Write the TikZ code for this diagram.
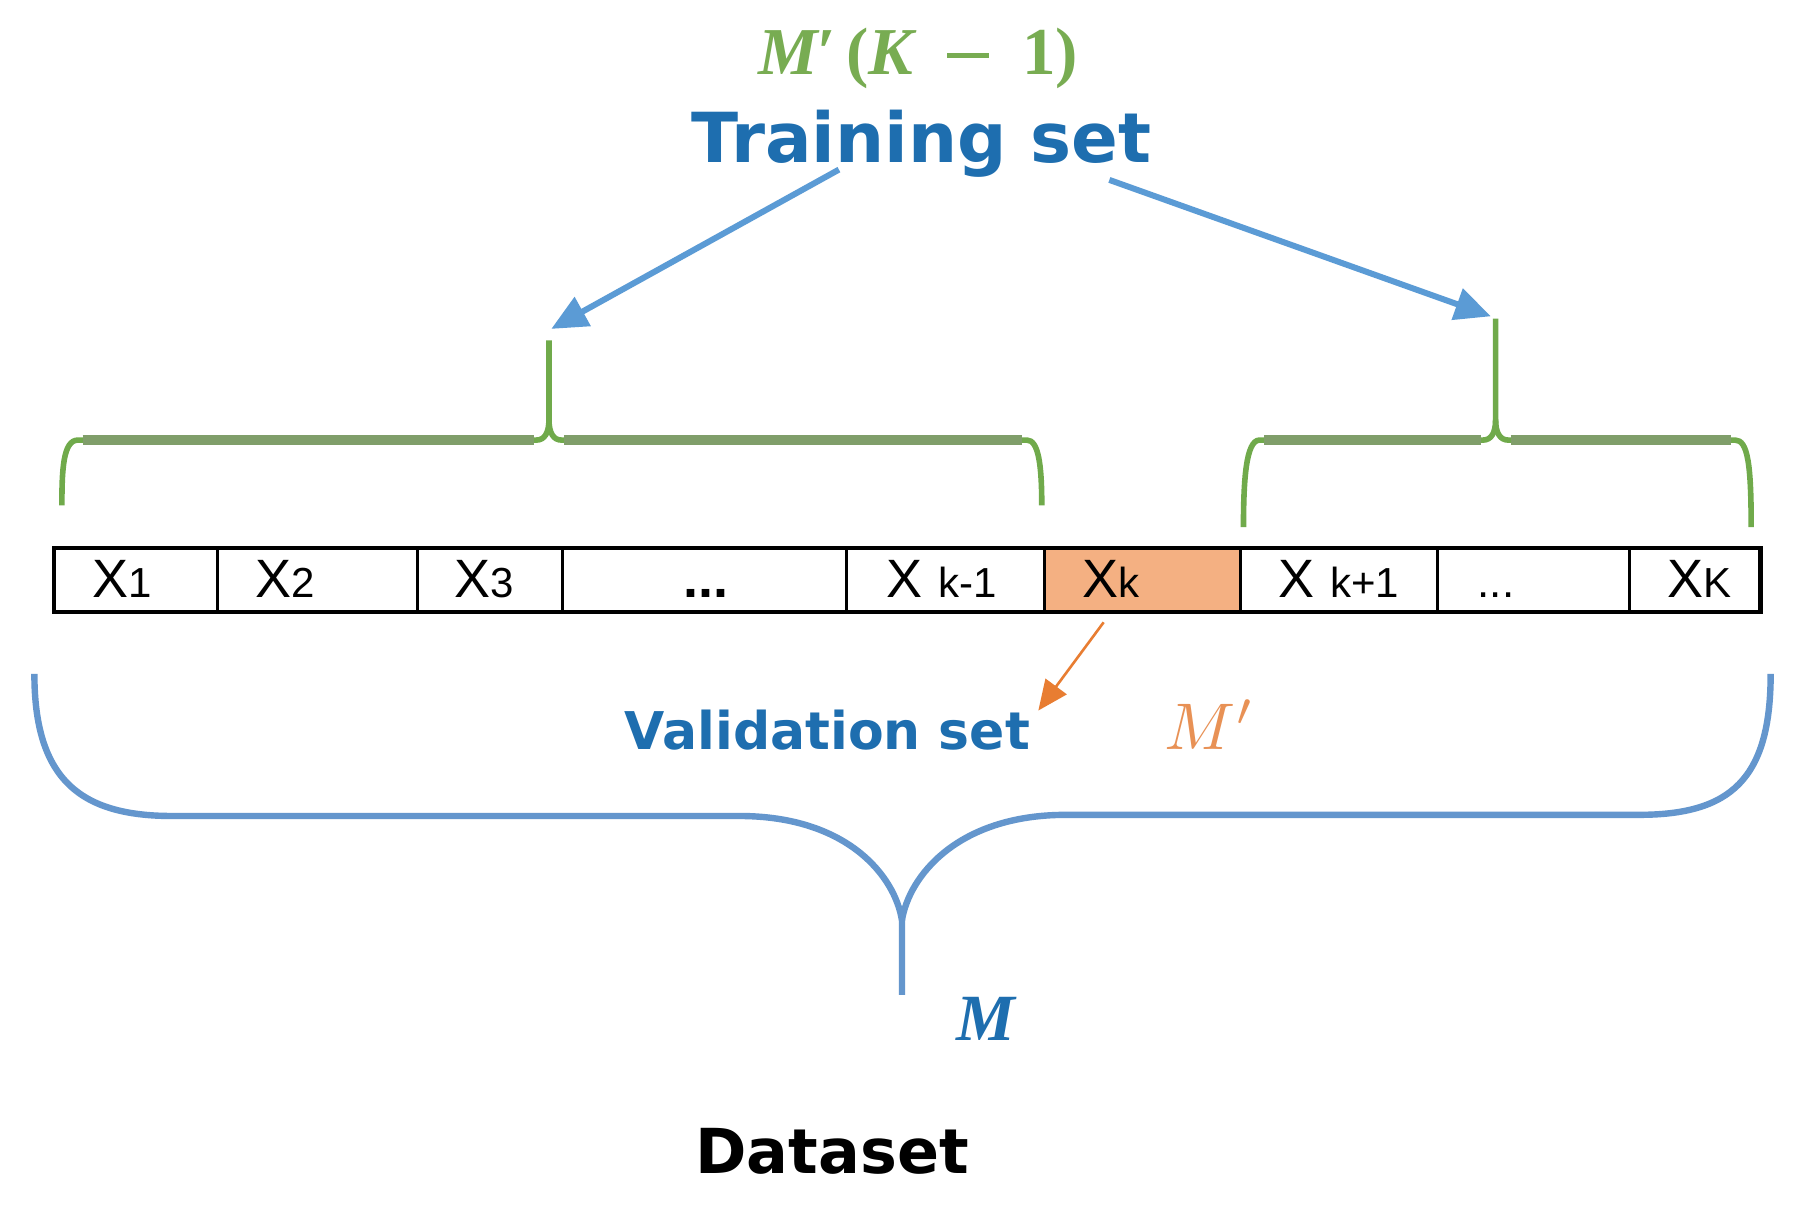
\documentclass[tikz,border=0pt]{standalone}
\usepackage[no-math]{fontspec}
\setmainfont{Liberation Sans}
\newfontfamily\dejavu{DejaVu Sans}
\newfontfamily\lserif{Liberation Serif}
\usetikzlibrary{arrows.meta}
\definecolor{bgreen}{RGB}{112,170,75}
\definecolor{hgreen}{RGB}{128,158,106}
\definecolor{tgreen}{RGB}{120,172,82}
\definecolor{ablue}{RGB}{91,155,213}
\definecolor{bblue}{RGB}{100,150,205}
\definecolor{tblue}{RGB}{30,110,175}
\definecolor{aorange}{RGB}{232,125,50}
\definecolor{torange}{RGB}{232,145,85}
\definecolor{xkfill}{RGB}{244,176,130}
\newcommand\subs[1]{{\fontsize{21}{24}\selectfont #1}}
\newcommand\bminus{\hspace{0.5em}\rule[0.24em]{0.62em}{0.08em}\hspace{0.5em}}
\begin{document}
\begin{tikzpicture}[x=0.573pt,y=-0.573pt,
  gbrace/.style={draw=bgreen, line width=2.8pt, line join=round},
  gbraceh/.style={draw=hgreen, line width=4.6pt},
  bbrace/.style={draw=bblue, line width=3.2pt, line join=round},
  barrow/.style={draw=ablue, line width=3pt, -{Triangle[length=18pt,width=16pt]}},
  oarrow/.style={draw=aorange, line width=1.3pt, -{Triangle[length=15pt,width=13pt]}, aorange},
  lab/.style={anchor=base west, inner sep=0pt, font=\fontsize{27}{30}\selectfont},
  frame/.style={draw=black, line width=2.2pt},
  divl/.style={draw=black, line width=1.5pt},
  ttl/.style={anchor=base, inner sep=0pt}]
\fill[white] (0,0) rectangle (1568,1054);
\useasboundingbox (0,0) rectangle (1568,1054);

% titles
\node[ttl, text=tgreen, font=\lserif\bfseries\fontsize{33.5}{36}\selectfont] (mk) at (801,65)
  {{\itshape M}′\hspace{0.15em}({\itshape K}\bminus1)};
\node[ttl, text=tblue, font=\dejavu\bfseries\fontsize{34.5}{40}\selectfont] (train) at (804,142) {Training set};

% cells
\fill[xkfill] (911,478) rectangle (1082,534);
\foreach \x in {189.5,364.6,491,738.8,911,1082,1254,1422}
  \draw[divl] (\x,478) -- (\x,534);
\draw[frame] (47,478) rectangle (1536,534);

\node[lab] (l1) at (80,521) {X\subs{1}};
\node[lab] (l2) at (223,521) {X\subs{2}};
\node[lab] (l3) at (396,521) {X\subs{3}};
\node[lab] (l4) at (596,521) {\bfseries...};
\node[lab] (l5) at (773,521) {X\hspace{8pt}\subs{k-1}};
\node[lab] (l6) at (944,521) {X\subs{k}};
\node[lab] (l7) at (1115,521) {X\hspace{8pt}\subs{k+1}};
\node[lab] (l8) at (1289,521) {\fontsize{22}{24}\selectfont...};
\node[lab] (l9) at (1455,521) {X\subs{K}};

% green braces
\draw[gbrace] (54,441) .. controls (54,410) and (55,384) .. (68,384) -- (468,384) .. controls (475,384) and (479,378) .. (479,366) -- (479,297);
\draw[gbrace] (479,366) .. controls (479,378) and (483,384) .. (490,384) -- (896,384) .. controls (906,384) and (909,405) .. (909,441);
\draw[gbrace] (1085,460) .. controls (1085,420) and (1087,384) .. (1099,384) -- (1294,384) .. controls (1301,384) and (1305,378) .. (1305,366) -- (1305,278);
\draw[gbrace] (1305,366) .. controls (1305,378) and (1309,384) .. (1316,384) -- (1514,384) .. controls (1525,384) and (1528,405) .. (1528,460);
\draw[gbraceh] (72,384) -- (466,384) (492,384) -- (892,384);
\draw[gbraceh] (1103,384) -- (1292,384) (1318,384) -- (1510,384);

% blue arrows
\coordinate (s1) at (732,148);
\coordinate (t1) at (481,287);
\coordinate (s2) at (968,157);
\coordinate (t2) at (1301,276);
\draw[barrow] (s1) -- (t1);
\draw[barrow] (s2) -- (t2);

% validation
\coordinate (vs) at (963,543);
\coordinate (ve) at (906,620);
\draw[oarrow] (vs) -- (ve);
\node[ttl, text=tblue, font=\dejavu\bfseries\fontsize{26}{30}\selectfont] (val) at (722,654) {Validation set};
\node[anchor=base west, inner sep=0pt] (mp) at (1016,654) {\color{torange}\scalebox{3.3}{$M'$}};

% big brace
\draw[bbrace] (30,588) .. controls (30,680) and (70,712) .. (150,712) -- (645,712) .. controls (740,712) and (781,765) .. (787,803) -- (787,868);
\draw[bbrace] (787,803) .. controls (793,765) and (835,711) .. (930,711) -- (1430,711) .. controls (1510,711) and (1545,680) .. (1545,588);

\node[ttl, text=tblue, font=\lserif\bfseries\itshape\fontsize{33}{36}\selectfont] (m) at (860,908) {M};
\node[ttl, font=\dejavu\bfseries\fontsize{31}{36}\selectfont] (ds) at (726,1024) {Dataset};
\end{tikzpicture}
\end{document}
